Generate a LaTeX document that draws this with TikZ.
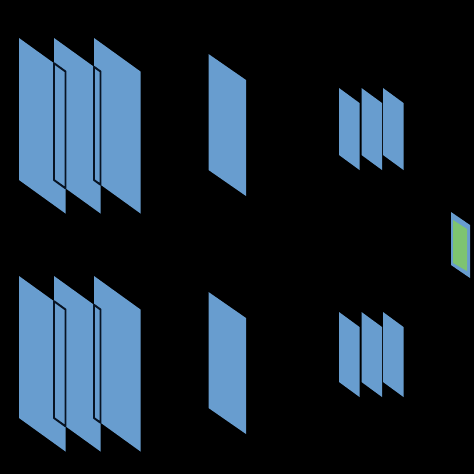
\documentclass[tikz,border=0pt]{standalone}
\definecolor{sheetblue}{RGB}{104,157,207}
\definecolor{mapgreen}{RGB}{126,196,112}
\definecolor{edgenavy}{RGB}{8,20,36}
\begin{document}
\begin{tikzpicture}[x=0.02cm,y=-0.02cm,
sheet/.style={fill=sheetblue},
overlap/.style={draw=edgenavy,line width=1.1pt,line join=round}]

\fill[black] (0,0) rectangle (474,474);

% two branches: stacked inputs, single map, small maps
\foreach \dy in {0,238}{
  \foreach \l in {19,54,94}
    \fill[sheet] ({\l},{38+\dy}) -- ++(46.5,33.5) -- ++(0,142) -- ++(-46.5,-33.5) -- cycle;
  \draw[overlap] (54,{63.2+\dy}) -- (65.5,{71.5+\dy}) -- (65.5,{188.3+\dy}) -- (54,{180+\dy}) -- cycle;
  \draw[overlap] (94,{66.8+\dy}) -- (100.5,{71.5+\dy}) -- (100.5,{184.7+\dy}) -- (94,{180+\dy}) -- cycle;
  \fill[sheet] (208.5,{54+\dy}) -- (246,{80+\dy}) -- (246,{196+\dy}) -- (208.5,{170+\dy}) -- cycle;
}
\foreach \ty/\h in {88/67,312/70}
  \foreach \l in {339,361.5,383}
    \fill[sheet] ({\l},{\ty}) -- ++(20.5,15) -- ++(0,\h) -- ++(-20.5,-15) -- cycle;

% output
\fill[sheet] (451,212) -- (470,225) -- (470,278) -- (451,265) -- cycle;
\fill[mapgreen] (453,220) -- (467,229) -- (467,271) -- (453,263) -- cycle;
\end{tikzpicture}
\end{document}
